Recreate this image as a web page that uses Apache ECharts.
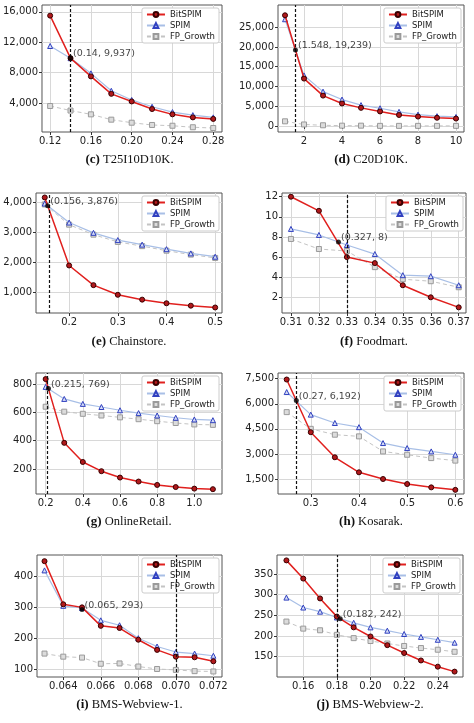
<!DOCTYPE html>
<html><head><meta charset="utf-8">
<script src="https://cdn.jsdelivr.net/npm/echarts@6/dist/echarts.min.js"></script>
<style>html,body{margin:0;padding:0;background:#fff}#c{width:474px;height:723px}</style>
</head><body><div id="c"></div>
<script>
// ---- data ----
const cX = [0.12,0.14,0.16,0.18,0.20,0.22,0.24,0.26,0.28];
const cBit = [15500,9900,7500,5200,4200,3200,2500,2100,1900];
const cSpim = [11500,9900,7900,5600,4400,3500,2800,2400,2100];
const cFp = [3600,3000,2500,1800,1400,1100,1000,800,700];
const cMark = [0.14,9937];

const dX = [1,2,3,4,5,6,7,8,9,10];
const dBit = [28000,12000,7700,5700,4600,3700,2800,2400,2100,1900];
const dSpim = [27000,12800,8700,6700,5300,4500,3600,2900,2500,2300];
const dFp = [1200,400,200,100,100,50,50,50,50,50];
const dMark = [1.548,19239];

const eX = [0.15,0.2,0.25,0.3,0.35,0.4,0.45,0.5];
const eBit = [4150,1900,1250,930,770,650,570,510];
const eSpim = [3950,3320,2980,2740,2590,2440,2300,2190];
const eFp = [3920,3250,2920,2680,2540,2390,2260,2150];
const eMark = [0.156,3876];

const fX = [0.31,0.32,0.33,0.34,0.35,0.36,0.37];
const fBit = [12,10.6,6.0,5.4,3.2,2.0,1.0];
const fSpim = [8.8,8.2,7.2,6.3,4.2,4.1,3.2];
const fFp = [7.8,6.8,6.6,5.0,3.8,3.6,3.0];
const fMark = [0.327,7.5]; const fMarkLabel = '(0.327, 8)';

const gX = [0.2,0.3,0.4,0.5,0.6,0.7,0.8,0.9,1.0,1.1];
const gBit = [835,385,250,185,140,112,88,73,62,58];
const gSpim = [780,695,660,638,615,595,578,562,550,545];
const gFp = [640,605,590,578,565,552,538,525,515,512];
const gMark = [0.215,769];

const hX = [0.25,0.3,0.35,0.4,0.45,0.5,0.55,0.6];
const hBit = [7450,4300,2800,1900,1500,1200,1000,850];
const hSpim = [6700,5350,4850,4600,3650,3350,3150,2950];
const hFp = [5500,4500,4150,4050,3150,2950,2750,2600];
const hMark = [0.27,6192];

const iX = [0.063,0.064,0.065,0.066,0.067,0.068,0.069,0.070,0.071,0.072];
const iBit = [450,310,300,240,233,195,162,140,138,125];
const iSpim = [420,305,298,258,242,200,173,155,150,143];
const iFp = [150,140,137,117,118,108,100,97,93,92];
const iMark = [0.065,293];

const jX = [0.15,0.16,0.17,0.18,0.19,0.20,0.21,0.22,0.23,0.24,0.25];
const jBit = [383,339,291,247,221,199,178,159,141,126,114];
const jSpim = [293,269,259,245,232,221,213,205,198,191,184];
const jFp = [235,218,214,203,195,188,182,176,171,167,162];
const jMark = [0.182,242];

const cXT=[0.12,0.16,0.20,0.24,0.28], cYT=[4000,8000,12000,16000];
const dXT=[2,4,6,8,10], dYT=[0,5000,10000,15000,20000,25000];
const eXT=[0.2,0.3,0.4,0.5], eYT=[1000,2000,3000,4000];
const fXT=[0.31,0.32,0.33,0.34,0.35,0.36,0.37], fYT=[2,4,6,8,10,12];
const gXT=[0.2,0.4,0.6,0.8,1.0], gYT=[200,400,600,800];
const hXT=[0.3,0.4,0.5,0.6], hYT=[1500,3000,4500,6000,7500];
const iXT=[0.064,0.066,0.068,0.070,0.072], iYT=[100,200,300,400];
const jXT=[0.16,0.18,0.20,0.22,0.24], jYT=[150,200,250,300,350];

const captions = [['(c)',' T25I10D10K.'],['(d)',' C20D10K.'],['(e)',' Chainstore.'],['(f)',' Foodmart.'],
  ['(g)',' OnlineRetail.'],['(h)',' Kosarak.'],['(i)',' BMS-Webview-1.'],['(j)',' BMS-Webview-2.']];

// ---- layout ----
const panels = [
 {g:[37,5,185,127], xr:[0.112,0.2886], yr:[176,16900], X:cX,B:cBit,S:cSpim,F:cFp,M:cMark,XT:cXT,YT:cYT,xd:2,cap:160},
 {g:[278,5,186,127], xr:[0.63,10.42], yr:[-1500,30600], X:dX,B:dBit,S:dSpim,F:dFp,M:dMark,XT:dXT,YT:dYT,xd:0,cap:160},
 {g:[36,193,186,120], xr:[0.132,0.514], yr:[328,4298], X:eX,B:eBit,S:eSpim,F:eFp,M:eMark,XT:eXT,YT:eYT,xd:1,cap:342},
 {g:[282,193,184,120], xr:[0.3068,0.3726], yr:[0.44,12.37], X:fX,B:fBit,S:fSpim,F:fFp,M:fMark,ML:fMarkLabel,XT:fXT,YT:fYT,xd:2,cap:342},
 {g:[36,373,186,121], xr:[0.148,1.149], yr:[24,878], X:gX,B:gBit,S:gSpim,F:gFp,M:gMark,XT:gXT,YT:gYT,xd:1,cap:522},
 {g:[278,373,186,121], xr:[0.232,0.618], yr:[603,7840], X:hX,B:hBit,S:hSpim,F:hFp,M:hMark,XT:hXT,YT:hYT,xd:1,cap:522},
 {g:[37,555,185,122], xr:[0.0626,0.07246], yr:[74,470], X:iX,B:iBit,S:iSpim,F:iFp,M:iMark,XT:iXT,YT:iYT,xd:3,cap:705},
 {g:[277,555,186,122], xr:[0.1444,0.255], yr:[101,396], X:jX,B:jBit,S:jSpim,F:jFp,M:jMark,XT:jXT,YT:jYT,xd:2,cap:705}
];

const grid=[],xAxis=[],yAxis=[],series=[],legend=[],graphic=[];
const fnt='DejaVu Sans';
panels.forEach((p,k)=>{
  grid.push({left:p.g[0],top:p.g[1],width:p.g[2],height:p.g[3],show:true,borderColor:'#555',borderWidth:1,backgroundColor:'#fff'});
  xAxis.push({type:'value',gridIndex:k,min:p.xr[0],max:p.xr[1],
    axisLine:{show:false},axisTick:{show:true,customValues:p.XT,length:3,lineStyle:{color:'#333'}},
    axisLabel:{customValues:p.XT,fontFamily:fnt,fontSize:10,color:'#222',margin:4,formatter:v=>v.toFixed(p.xd)},
    splitLine:{show:true,lineStyle:{color:'#d8d8d8',width:1}}});
  yAxis.push({type:'value',gridIndex:k,min:p.yr[0],max:p.yr[1],
    axisLine:{show:false},axisTick:{show:true,customValues:p.YT,length:3,lineStyle:{color:'#333'}},
    axisLabel:{customValues:p.YT,fontFamily:fnt,fontSize:10,color:'#222',margin:4,formatter:v=>v.toLocaleString('en-US')},
    splitLine:{show:true,lineStyle:{color:'#d8d8d8',width:1}}});
  const mk=a=>p.X.map((x,i)=>[x,a[i]]);
  series.push({name:'FP_Growth',type:'line',xAxisIndex:k,yAxisIndex:k,data:mk(p.F),symbol:'rect',symbolSize:5,
    lineStyle:{color:'#c4c4c4',width:1,type:[4,3]},itemStyle:{color:'#dcdcdc',borderColor:'#9a9a9a',borderWidth:1},z:2});
  series.push({name:'SPIM',type:'line',xAxisIndex:k,yAxisIndex:k,data:mk(p.S),symbol:'triangle',symbolSize:5,
    lineStyle:{color:'#a8bfe6',width:1.2},itemStyle:{color:'#d5dcf5',borderColor:'#3040c0',borderWidth:1},z:3});
  series.push({name:'BitSPIM',type:'line',xAxisIndex:k,yAxisIndex:k,data:mk(p.B),symbol:'circle',symbolSize:5,
    lineStyle:{color:'#e0201e',width:1.5},itemStyle:{color:'#b0191c',borderColor:'#3a0000',borderWidth:1},z:4});
  series.push({name:'mark'+k,type:'scatter',xAxisIndex:k,yAxisIndex:k,data:[p.M],symbolSize:5,
    itemStyle:{color:'#000'},z:6,silent:true,
    label:{show:true,position:'right',distance:0,fontFamily:fnt,fontSize:9.5,color:'#111',
      formatter:()=>p.ML||('('+p.M[0]+', '+p.M[1].toLocaleString('en-US')+')'),offset:[0,-4]},
    markLine:{silent:true,symbol:'none',label:{show:false},lineStyle:{color:'#111',type:[3,2],width:1.2},data:[{xAxis:p.M[0]}]}});
  legend.push({data:['BitSPIM','SPIM','FP_Growth'],orient:'vertical',right:474-(p.g[0]+p.g[2])+3,top:p.g[1]+3,
    itemWidth:18,itemHeight:6,itemGap:2,padding:[2,4,2,4],backgroundColor:'#fff',borderColor:'#ccc',borderWidth:1,borderRadius:2,
    textStyle:{fontFamily:fnt,fontSize:8.5,color:'#222'},selectedMode:false});
  graphic.push({type:'text',x:p.g[0]+p.g[2]/2,y:p.cap,style:{
    text:'{b|'+captions[k][0]+'}{n|'+captions[k][1]+'}',align:'center',verticalAlign:'middle',
    rich:{b:{fontFamily:'Liberation Serif',fontWeight:'bold',fontSize:13,fill:'#111'},n:{fontFamily:'Liberation Serif',fontSize:12.5,fill:'#111'}}}});
});
const chart=echarts.init(document.getElementById('c'),null,{renderer:'canvas'});
chart.setOption({animation:false,grid,xAxis,yAxis,series,legend,graphic});
</script></body></html>
